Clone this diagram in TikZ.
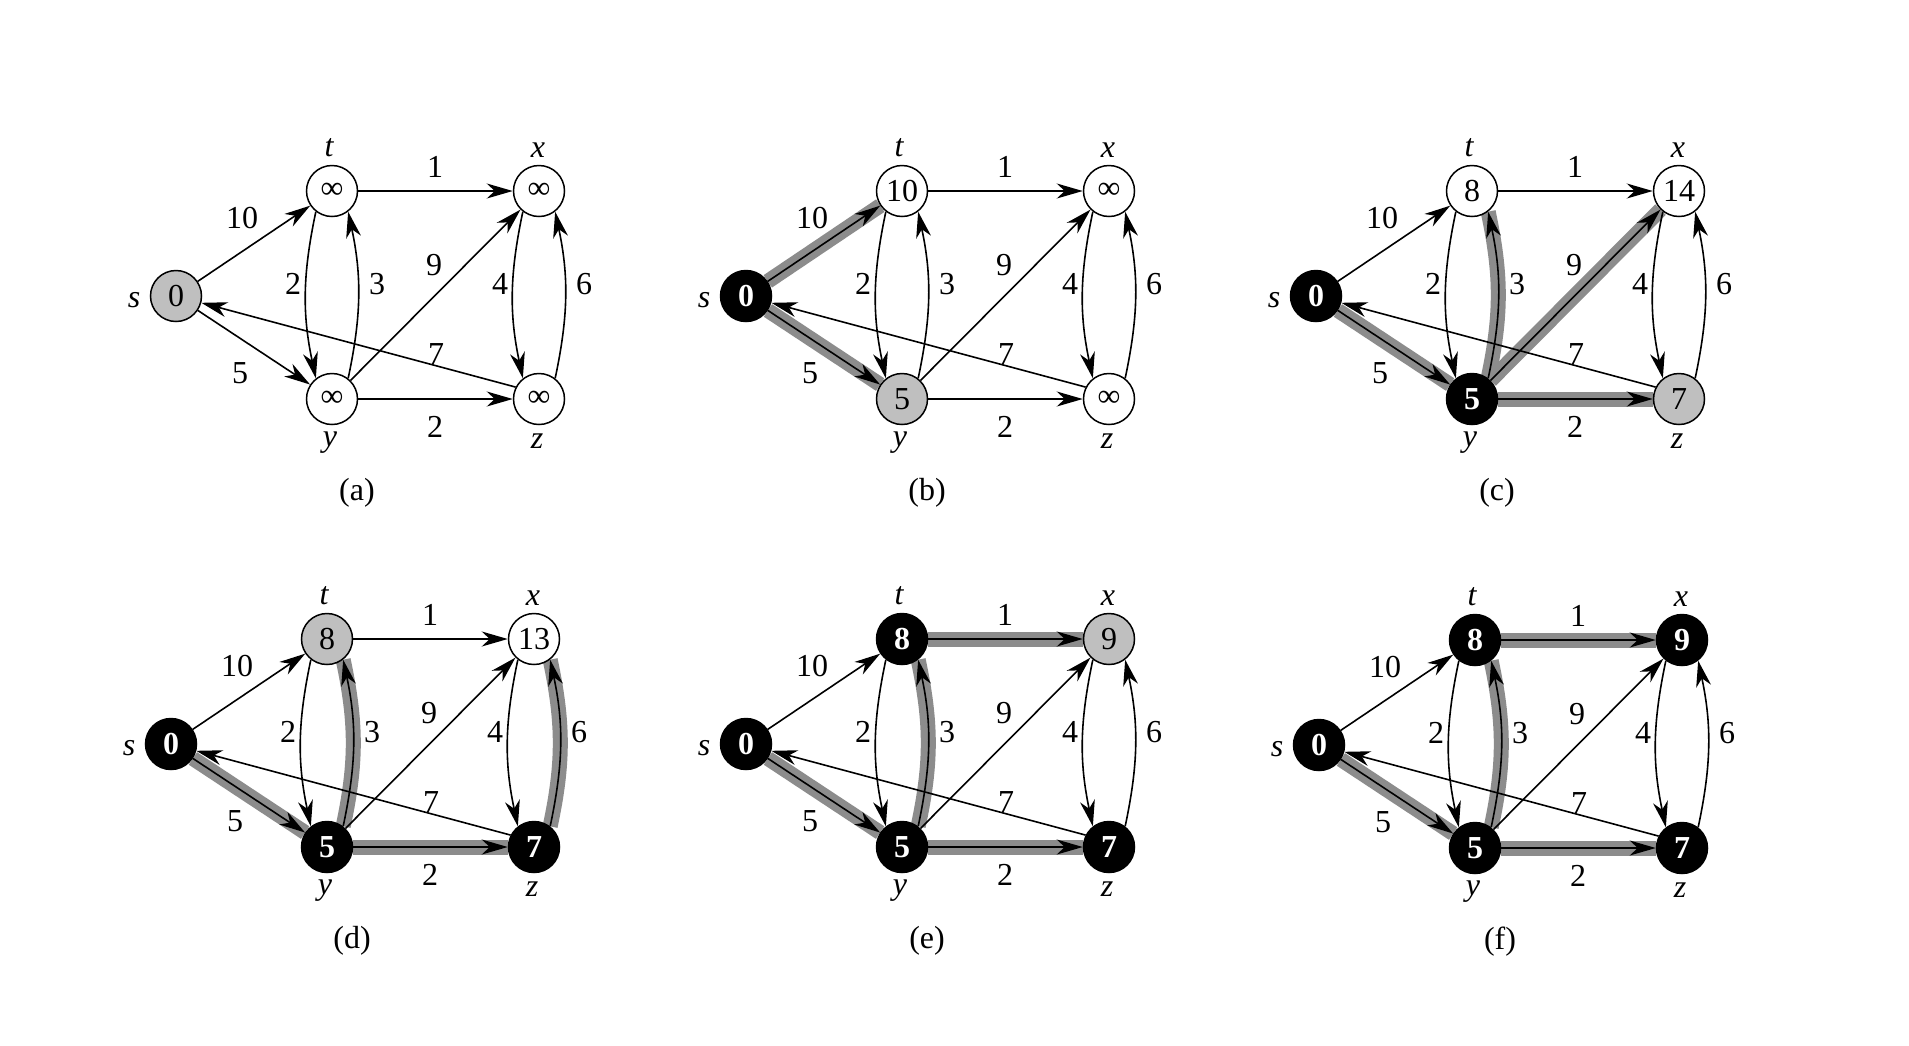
\documentclass[tikz,border=0pt]{standalone}
\usepackage{fontspec}
\setmainfont{Liberation Serif}
\usetikzlibrary{arrows.meta}
\pgfdeclarelayer{background}
\pgfdeclarelayer{paper}
\pgfsetlayers{paper,background,main}
\definecolor{gfill}{gray}{0.75}
\definecolor{bandgray}{gray}{0.55}
\tikzset{
  vtx/.style={circle, draw=black, line width=1.5pt, minimum size=51pt, inner sep=0pt, font=\fontsize{32}{36}\selectfont},
  wnode/.style={vtx, fill=white},
  gnode/.style={vtx, fill=gfill},
  bnode/.style={vtx, fill=black, text=white, font=\fontsize{32}{36}\selectfont\bfseries},
  gedge/.style={draw=black, line width=1.6pt, -{Stealth[length=26pt,width=15pt,inset=8pt]}},
  band/.style={draw=bandgray, line width=15pt},
  lbl/.style={inner sep=0pt, font=\fontsize{32}{36}\selectfont},
  vname/.style={inner sep=0pt, font=\fontsize{32}{36}\selectfont\itshape},
}
% #1 prefix, #2 shift, #3 caption, #4..#8 node specs for s,t,x,y,z
\newcommand\gpanel[8]{%
 \begin{scope}[shift={(#2)}]
  \node (#1s) at (-156,105) #4;
  \node (#1t) at (0,0) #5;
  \node (#1x) at (207,0) #6;
  \node (#1y) at (0,208) #7;
  \node (#1z) at (207,208) #8;
  \node[vname] (#1ns) at (-198,109) {s};
  \node[vname] (#1nt) at (-3,-43) {t};
  \node[vname] (#1nx) at (206,-41) {x};
  \node[vname] (#1ny) at (-2,252) {y};
  \node[vname] (#1nz) at (205,250) {z};
  \draw[gedge] (#1s) -- (#1t);
  \draw[gedge] (#1s) -- (#1y);
  \draw[gedge] (#1t) -- (#1x);
  \draw[gedge] (#1y) -- (#1z);
  \draw[gedge] (#1y) -- (#1x);
  \draw[gedge] (#1z.153) -- (#1s);
  \draw[gedge] (#1t.232) to[bend right=12] (#1y.128);
  \draw[gedge] (#1y.52) to[bend right=12] (#1t.308);
  \draw[gedge] (#1x.232) to[bend right=12] (#1z.128);
  \draw[gedge] (#1z.52) to[bend right=12] (#1x.308);
  \node[lbl] (#1w10) at (-90,27) {10};
  \node[lbl] (#1w5) at (-92,182) {5};
  \node[lbl] (#1w1) at (103,-24) {1};
  \node[lbl] (#1w2b) at (103,236) {2};
  \node[lbl] (#1w2l) at (-39,93) {2};
  \node[lbl] (#1w3) at (45,93) {3};
  \node[lbl] (#1w9) at (102,74) {9};
  \node[lbl] (#1w4) at (168,93) {4};
  \node[lbl] (#1w6) at (252,93) {6};
  \node[lbl] (#1w7) at (104,163) {7};
  \node[lbl] (#1cap) at (25,302) {(#3)};
 \end{scope}}
\begin{document}
\begin{tikzpicture}[x=1pt,y=-1pt]
\useasboundingbox (0,0) rectangle (1909,1045);
\begin{pgfonlayer}{paper}
\fill[white] (0,0) rectangle (1909,1045);
\end{pgfonlayer}

\gpanel{a}{332,191}{a}{[gnode]{0}}{[wnode]{∞}}{[wnode]{∞}}{[wnode]{∞}}{[wnode]{∞}}
\gpanel{b}{902,191}{b}{[bnode]{0}}{[wnode]{10}}{[wnode]{∞}}{[gnode]{5}}{[wnode]{∞}}
\gpanel{c}{1472,191}{c}{[bnode]{0}}{[wnode]{8}}{[wnode]{14}}{[bnode]{5}}{[gnode]{7}}
\gpanel{d}{327,639}{d}{[bnode]{0}}{[gnode]{8}}{[wnode]{13}}{[bnode]{5}}{[bnode]{7}}
\gpanel{e}{902,639}{e}{[bnode]{0}}{[bnode]{8}}{[gnode]{9}}{[bnode]{5}}{[bnode]{7}}
\gpanel{f}{1475,640}{f}{[bnode]{0}}{[bnode]{8}}{[bnode]{9}}{[bnode]{5}}{[bnode]{7}}

\begin{pgfonlayer}{background}
 % (b)
 \draw[band] (bs) -- (bt);
 \draw[band] (bs) -- (by);
 % (c)
 \draw[band] (cs) -- (cy);
 \draw[band] (cy.52) to[bend right=12] (ct.308);
 \draw[band] (cy) -- (cx);
 \draw[band] (cy) -- (cz);
 % (d)
 \draw[band] (ds) -- (dy);
 \draw[band] (dy.52) to[bend right=12] (dt.308);
 \draw[band] (dy) -- (dz);
 \draw[band] (dz.52) to[bend right=12] (dx.308);
 % (e)
 \draw[band] (es) -- (ey);
 \draw[band] (ey.52) to[bend right=12] (et.308);
 \draw[band] (ey) -- (ez);
 \draw[band] (et) -- (ex);
 % (f)
 \draw[band] (fs) -- (fy);
 \draw[band] (fy.52) to[bend right=12] (ft.308);
 \draw[band] (fy) -- (fz);
 \draw[band] (ft) -- (fx);
\end{pgfonlayer}
\end{tikzpicture}
\end{document}
